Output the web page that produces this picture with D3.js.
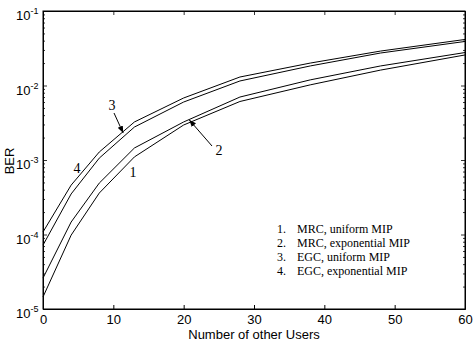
<!DOCTYPE html>
<html>
<head>
<meta charset="utf-8">
<script src="https://cdn.jsdelivr.net/npm/d3@7"></script>
<style>
  html, body { margin: 0; padding: 0; background: #fff; }
  svg { display: block; }
</style>
</head>
<body>
<svg id="chart" width="474" height="346"></svg>
<script>
// Number of interfering users at which BER was evaluated
const users = [0, 4, 8, 13, 20, 28, 38, 48, 60];

// BER for each combining scheme / multipath intensity profile
const berMrcUniform = [1.45e-5, 9.8e-5, 3.6e-4, 1.10e-3, 2.95e-3, 6.1e-3, 1.02e-2, 1.61e-2, 2.57e-2];
const berMrcExp     = [2.6e-5, 1.47e-4, 4.9e-4, 1.45e-3, 3.24e-3, 7.0e-3, 1.19e-2, 1.83e-2, 2.77e-2];
const berEgcUniform = [7.2e-5, 3.5e-4, 1.06e-3, 2.77e-3, 6.0e-3, 1.15e-2, 1.83e-2, 2.73e-2, 3.9e-2];
const berEgcExp     = [1.08e-4, 4.6e-4, 1.28e-3, 3.24e-3, 6.8e-3, 1.30e-2, 2.0e-2, 2.9e-2, 4.15e-2];

const xTicks = [0, 10, 20, 30, 40, 50, 60];
const yDecades = [-5, -4, -3, -2, -1];

const legendNums = ["1.", "2.", "3.", "4."];
const legendLabels = [
  "MRC, uniform MIP",
  "MRC, exponential MIP",
  "EGC, uniform MIP",
  "EGC, exponential MIP"
];

const svg = d3.select("#chart");
const plotL = 43, plotR = 465, plotT = 11, plotB = 309;

const x = d3.scaleLinear().domain([0, 60]).range([plotL, plotR]);
const y = d3.scaleLog().domain([1e-5, 1e-1]).range([plotB, plotT]);

const sans = "Liberation Sans, Arial, sans-serif";
const serif = "Liberation Serif, Times New Roman, serif";

// Minor (2..9) and major ticks on the log axis
const allY = y.ticks();
const majorY = yDecades.map(e => Math.pow(10, e));
const minorY = allY.filter(v => !majorY.some(m => Math.abs(m - v) / m < 1e-9));

function styleAxis(g) {
  g.select(".domain").attr("stroke", "#000").attr("stroke-width", 1);
  g.selectAll(".tick line").attr("stroke", "#000").attr("stroke-width", 0.8);
  g.selectAll("text").remove();
}

// Bottom axis with labels
const gB = svg.append("g").attr("transform", `translate(0,${plotB})`)
  .call(d3.axisBottom(x).tickValues(xTicks).tickSizeInner(-4).tickSizeOuter(0).tickFormat(d3.format("d")));
gB.select(".domain").attr("stroke", "#000");
gB.selectAll(".tick line").attr("stroke", "#000");
gB.selectAll("text")
  .attr("font-family", sans).attr("font-size", 13).attr("fill", "#000")
  .attr("dy", null).attr("y", 15);

// Top axis
svg.append("g").attr("transform", `translate(0,${plotT})`)
  .call(d3.axisTop(x).tickValues(xTicks).tickSizeInner(-4).tickSizeOuter(0))
  .call(styleAxis);

// Left axis: major ticks, then minor ticks
svg.append("g").attr("transform", `translate(${plotL},0)`)
  .call(d3.axisLeft(y).tickValues(majorY).tickSizeInner(-4).tickSizeOuter(0))
  .call(styleAxis);
svg.append("g").attr("transform", `translate(${plotL},0)`)
  .call(d3.axisLeft(y).tickValues(minorY).tickSizeInner(-2).tickSizeOuter(0))
  .call(styleAxis);

// Right axis
svg.append("g").attr("transform", `translate(${plotR},0)`)
  .call(d3.axisRight(y).tickValues(majorY).tickSizeInner(-4).tickSizeOuter(0))
  .call(styleAxis);
svg.append("g").attr("transform", `translate(${plotR},0)`)
  .call(d3.axisRight(y).tickValues(minorY).tickSizeInner(-2).tickSizeOuter(0))
  .call(styleAxis);

// Power-of-ten labels
yDecades.forEach(e => {
  const t = svg.append("text")
    .attr("x", plotL - 27).attr("y", y(Math.pow(10, e)) + 9)
    .attr("font-family", sans).attr("font-size", 13).attr("fill", "#000");
  t.append("tspan").text("10");
  t.append("tspan").attr("font-size", 9).attr("dy", -6).text("-" + Math.abs(e));
});

// Axis titles
svg.append("text")
  .attr("x", (plotL + plotR) / 2).attr("y", 339)
  .attr("text-anchor", "middle")
  .attr("font-family", sans).attr("font-size", 13).attr("fill", "#000")
  .text("Number of other Users");

svg.append("text")
  .attr("transform", `translate(14,${y(1e-3) + 1}) rotate(-90)`)
  .attr("text-anchor", "middle")
  .attr("font-family", sans).attr("font-size", 13).attr("fill", "#000")
  .text("BER");

// Frame
svg.append("rect")
  .attr("x", plotL).attr("y", plotT)
  .attr("width", plotR - plotL).attr("height", plotB - plotT)
  .attr("fill", "none").attr("stroke", "#000").attr("stroke-width", 1);

// Curves
const line = d3.line().x((d, i) => x(users[i])).y(d => y(d));
[berMrcUniform, berMrcExp, berEgcUniform, berEgcExp].forEach(s => {
  svg.append("path").datum(s)
    .attr("d", line)
    .attr("fill", "none").attr("stroke", "#000").attr("stroke-width", 1);
});

// Curve annotations
svg.append("defs").append("marker")
  .attr("id", "arrow").attr("viewBox", "0 0 10 10")
  .attr("refX", 10).attr("refY", 5)
  .attr("markerWidth", 7).attr("markerHeight", 7)
  .attr("orient", "auto")
  .append("path").attr("d", "M0,1 L10,5 L0,9 Z").attr("fill", "#000");

function label(txt, px, py) {
  svg.append("text").attr("x", px).attr("y", py)
    .attr("text-anchor", "middle")
    .attr("font-family", serif).attr("font-size", 14).attr("fill", "#000")
    .text(txt);
}
function arrow(x1, y1, x2, y2) {
  svg.append("line")
    .attr("x1", x1).attr("y1", y1).attr("x2", x2).attr("y2", y2)
    .attr("stroke", "#000").attr("stroke-width", 1)
    .attr("marker-end", "url(#arrow)");
}

// "3" points at the EGC uniform curve, "2" at the MRC exponential curve
label("3", 112, 110);
arrow(114, 113, x(11.4), y(2.3e-3));
label("4", 77, 173);
label("1", 133, 177);
label("2", 219, 155);
arrow(212, 146, x(20.8), y(3.45e-3));

// Legend
legendLabels.forEach((t, i) => {
  const ly = 233 + i * 13.9;
  svg.append("text")
    .attr("x", 277).attr("y", ly)
    .attr("font-family", serif).attr("font-size", 12).attr("fill", "#000")
    .text(legendNums[i]);
  svg.append("text")
    .attr("x", 297).attr("y", ly)
    .attr("font-family", serif).attr("font-size", 12).attr("fill", "#000")
    .text(t);
});
</script>
</body>
</html>
